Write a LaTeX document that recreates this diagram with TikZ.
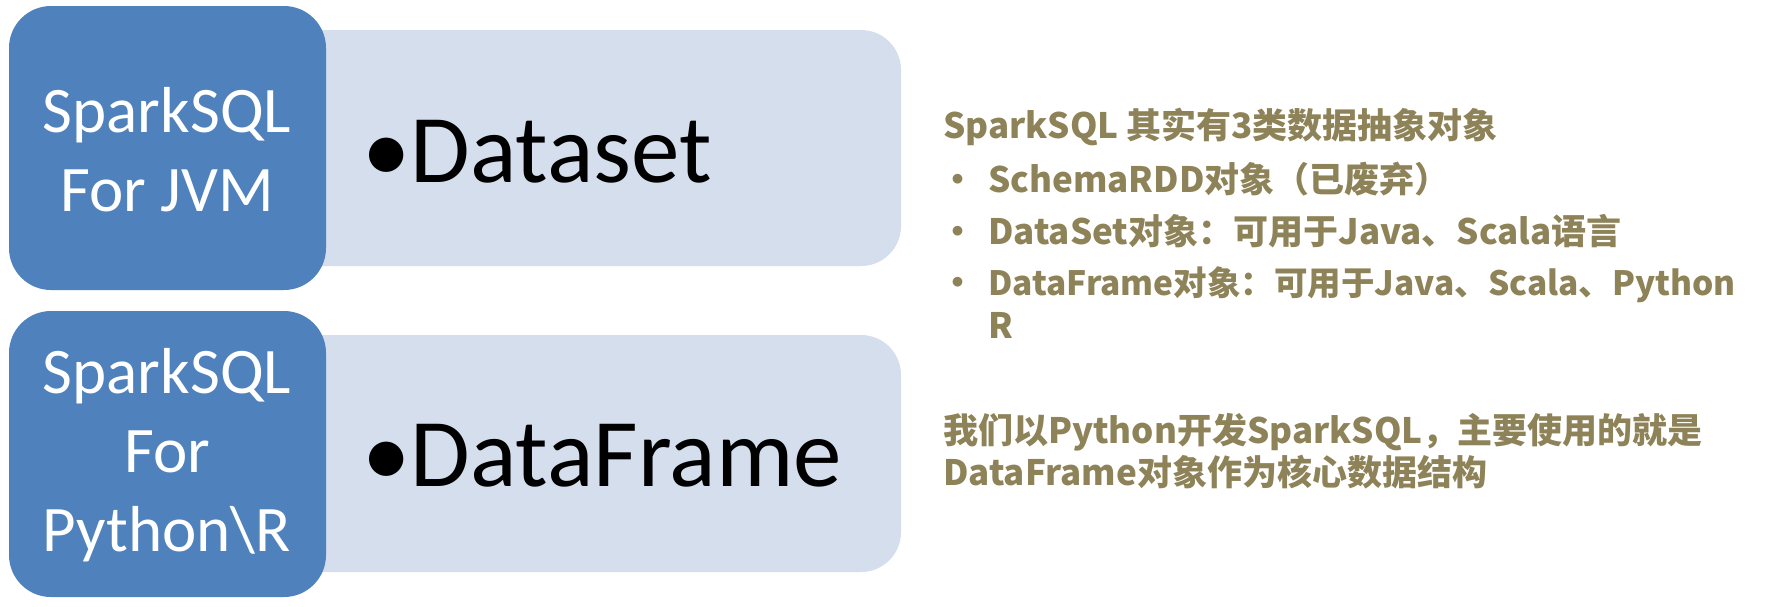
\documentclass[tikz,border=0pt]{standalone}
\usepackage{fontspec}
\setmainfont{Carlito}
\newfontfamily\cjk{Noto Sans CJK SC}
\definecolor{boxblue}{RGB}{79,129,189}
\definecolor{boxlight}{RGB}{212,222,236}
\definecolor{olive}{RGB}{142,131,88}
\begin{document}
\begin{tikzpicture}[x=1pt,y=-1pt,
  bluebox/.style={fill=boxblue,rounded corners=42pt},
  lightbox/.style={fill=boxlight,rounded corners=40pt},
  bluetext/.style={text=white,align=center,font=\fontsize{65}{79}\selectfont},
  bigtext/.style={anchor=base west,inner sep=0pt,text=black,font=\fontsize{97}{110}\selectfont},
  note/.style={anchor=base west,inner sep=0pt,text=olive,font=\cjk\bfseries\fontsize{35}{42}\selectfont}]
\useasboundingbox[fill=white] (0,0) rectangle (1765,606);
% top row
\fill[lightbox] (280,30) rectangle (901,266);
\fill[bluebox] (9,6) rectangle (326,290);
\node[bluetext] (jvm) at (167,150) {SparkSQL\\For JVM};
\node[bigtext] (ds) at (362,182) {•Dataset};
% bottom row
\fill[lightbox] (280,335) rectangle (901,572);
\fill[bluebox] (9,311) rectangle (326,597);
\node[bluetext] (py) at (167,455) {SparkSQL\\For\\Python\textbackslash R};
\node[bigtext] (df) at (362,486) {•DataFrame};
% notes
\node[note] (n0) at (943,138) {SparkSQL 其实有3类数据抽象对象};
\node[note] (b1) at (940,192) {•};
\node[note] (n1) at (988,192) {SchemaRDD对象（已废弃）};
\node[note] (b2) at (940,244) {•};
\node[note] (n2) at (988,244) {DataSet对象：可用于Java、Scala语言};
\node[note] (b3) at (940,295) {•};
\node[note,font=\cjk\bfseries\fontsize{33.5}{42}\selectfont] (n3) at (988,295) {DataFrame对象：可用于Java、Scala、Python};
\node[note] (n4) at (988,338) {R};
\node[note] (m1) at (943,443) {我们以Python开发SparkSQL，主要使用的就是};
\node[note] (m2) at (943,485) {DataFrame对象作为核心数据结构};
\end{tikzpicture}
\end{document}
